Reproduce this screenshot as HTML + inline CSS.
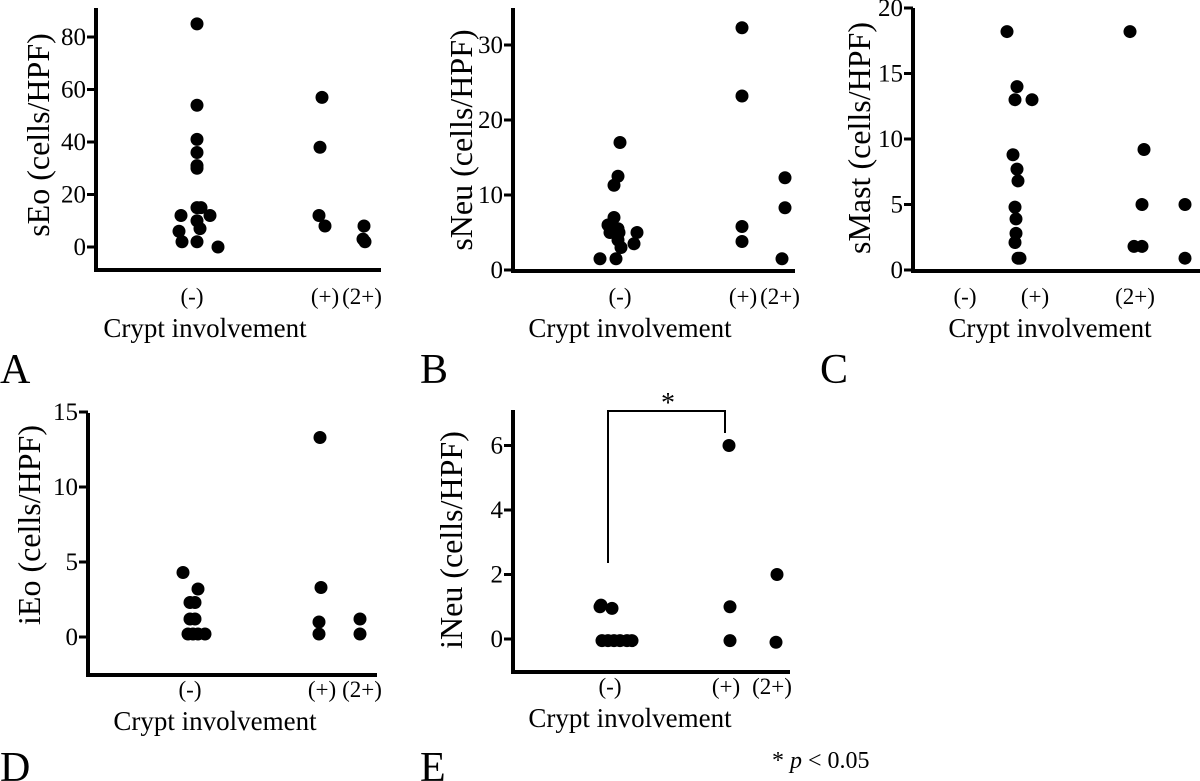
<!DOCTYPE html>
<html><head><meta charset="utf-8"><style>
html,body{margin:0;padding:0;background:#fff;}
svg{display:block;font-family:"Liberation Serif",serif;}
</style></head><body>
<svg id="fig" width="1200" height="781" viewBox="0 0 1200 781"></svg>
<script>
// Panel A: sEo
const aCats = ["(-)", "(+)", "(2+)"];
const aVals = [[85,54,41,36,31,30,15,15,10,7,2,12,6,2,12,0],[57,38,12,8],[8,3,2]];
const aJit  = [[0,0,0,0,0,0,0,4,0,3,0,-16,-18,-15,13,21],[0,-2,-3,3],[0,-1,1]];
// Panel B: sNeu
const bCats = ["(-)", "(+)", "(2+)"];
const bVals = [[17,12.5,11.3,7,6,5.5,5,5,4,3,1.5,5,3.5,1.5],[32.3,23.2,5.8,3.8],[12.3,8.3,1.5]];
const bJit  = [[0,-2,-6,-6,-12,-2,-10,-1,-2,1,-4,17,14,-20],[0,0,0,0],[0,0,-3]];
// Panel C: sMast
const cCats = ["(-)", "(+)", "(2+)"];
const cVals = [[],[18.2,14,13,13,8.8,7.7,6.8,4.8,3.9,2.8,2.1,0.9,0.9],[18.2,9.2,5,1.8,1.8,5,0.9]];
const cJit  = [[],[0,10,8,25,6,10,11,8,9,9,8,11,13],[-5,9,7,-1,7,50,50]];
// Panel D: iEo
const dCats = ["(-)", "(+)", "(2+)"];
const dVals = [[4.3,3.2,2.3,2.3,1.2,1.2,0.2,0.2,0.2,0.2],[13.3,3.3,1.0,0.2],[1.2,0.2]];
const dJit  = [[-7,8,0,5,0,5,-2,3,8,15],[0,1,-1,-1],[0,0]];
// Panel E: iNeu
const eCats = ["(-)", "(+)", "(2+)"];
const eVals = [[1.0,1.05,0.95,-0.05,-0.05,-0.05,-0.05,-0.05,-0.05],[6,1,-0.05],[2,-0.1]];
const eJit  = [[-10,-9,2,-8,-2,4,10,17,22],[0,1,1],[0,-1]];

const NS="http://www.w3.org/2000/svg";
const svg=document.getElementById('fig');
function mk(tag,attrs,parent){const e=document.createElementNS(NS,tag);for(const k in attrs)e.setAttribute(k,attrs[k]);(parent||svg).appendChild(e);return e;}
function txt(s,attrs,parent){const e=mk('text',attrs,parent);e.textContent=s;return e;}

function panel(p){
  const g=mk('g',{});
  
  
  const y=v=>p.y0-(v-p.v0)*p.scale;
  const ya=mk('line',{x1:p.ax,y1:p.top,x2:p.ax,y2:p.bottom+2,stroke:'#000','stroke-width':4},g);
  
  
  const xa=mk('line',{x1:p.ax-2,y1:p.bottom,x2:p.right,y2:p.bottom,stroke:'#000','stroke-width':4},g);
  
  
  p.ticks.forEach(t=>{
    const ty=y(t);
    const tl=mk('line',{x1:p.ax-9,y1:ty,x2:p.ax,y2:ty,stroke:'#000','stroke-width':3},g);
    
    
    const lb=txt(String(t),{x:p.ax-10,y:ty+8,'font-size':25,'text-anchor':'end'},g);
    
    
  });
  p.cats.forEach((c,i)=>{
    const lb=txt(c,{x:p.labX[i],y:p.catY,'font-size':23,'text-anchor':'middle'},g);
    
    
    p.vals[i].forEach((v,j)=>{
      const d=mk('circle',{cx:p.catX[i]+p.jit[i][j],cy:y(v),r:6.5,fill:'#000'},g);
      
      
    });
  });
  const xt=txt('Crypt involvement',{x:p.xtX,y:p.xtY,'font-size':27,'text-anchor':'middle'},g);
  
  
  const yt=txt(p.ytitle,{x:0,y:0,'font-size':32,'text-anchor':'middle',transform:`translate(${p.ytX},${p.ytY}) rotate(-90)`},g);
  
  
  const pl=txt(p.letter,{x:p.letX,y:p.letY,'font-size':42},g);
  
  
  return y;
}

panel({id:'a',cats:aCats,vals:aVals,jit:aJit,ax:96,top:8,bottom:270,right:381,v0:0,y0:247,scale:52.5/20,ticks:[0,20,40,60,80],
  catX:[197,322,364],labX:[192,325,362],catY:304,xtX:205,xtY:337,ytitle:'sEo (cells/HPF)',ytX:49,ytY:135,letter:'A',letX:0,letY:383});
panel({id:'b',cats:bCats,vals:bVals,jit:bJit,ax:513,top:8,bottom:271,right:795,v0:0,y0:270,scale:7.5,ticks:[0,10,20,30],
  catX:[620,742,785],labX:[620,743,780],catY:304,xtX:630,xtY:337,ytitle:'sNeu (cells/HPF)',ytX:472,ytY:140,letter:'B',letX:420,letY:383});
panel({id:'c',cats:cCats,vals:cVals,jit:cJit,ax:913,top:8,bottom:271,right:1200,v0:0,y0:270,scale:65.5/5,ticks:[0,5,10,15,20],
  catX:[965,1007,1135],labX:[965,1035,1135],catY:304,xtX:1050,xtY:337,ytitle:'sMast (cells/HPF)',ytX:870,ytY:138,letter:'C',letX:820,letY:383});
panel({id:'d',cats:dCats,vals:dVals,jit:dJit,ax:88,top:413,bottom:675,right:377,v0:0,y0:637,scale:15,ticks:[0,5,10,15],
  catX:[190,320,360],labX:[190,322,362],catY:697,xtX:215,xtY:730,ytitle:'iEo (cells/HPF)',ytX:40,ytY:525,letter:'D',letX:0,letY:781});
panel({id:'e',cats:eCats,vals:eVals,jit:eJit,ax:513,top:410,bottom:672,right:790,v0:0,y0:639,scale:64.5/2,ticks:[0,2,4,6],
  catX:[610,729,777],labX:[610,726,772],catY:694,xtX:630,xtY:727,ytitle:'iNeu (cells/HPF)',ytX:462,ytY:540,letter:'E',letX:420,letY:781});

const br=mk('path',{d:'M608 563 V411 H725 V433',fill:'none',stroke:'#000','stroke-width':2});


const st=txt('*',{x:668,y:412,'font-size':28,'text-anchor':'middle'});


const pn=mk('text',{x:772,y:768,'font-size':24});


pn.innerHTML='* <tspan font-style="italic">p</tspan> &lt; 0.05';
</script>
</body></html>
